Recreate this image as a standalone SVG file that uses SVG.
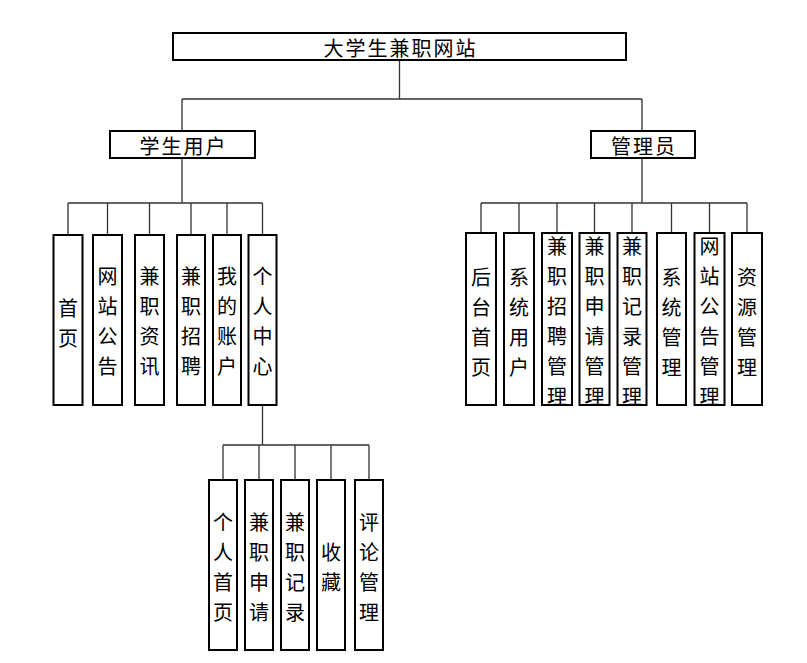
<svg xmlns="http://www.w3.org/2000/svg" width="807" height="663" viewBox="0 0 807 663">
<style>
.box{fill:#fff;stroke:#000;stroke-width:2}
.ln{fill:none;stroke:#333;stroke-width:1.3}
.t{font-family:"Noto Sans CJK SC","Noto Sans CJK JP",sans-serif;font-size:20px;fill:#000;text-anchor:middle;dominant-baseline:central}
.h{letter-spacing:2px}
</style>
<rect width="807" height="663" fill="#fff"/>
<g id="connectors">
<path class="ln" d="M399.5 60V99M182 99H642M182 99V131M642 99V131"/>
<path class="ln" d="M182 158V203M68 203H262.5M68 203V235M107.5 203V235M149.5 203V235M191 203V235M227 203V235M262.5 203V235"/>
<path class="ln" d="M642 158V203M481 203H747M481 203V233M519 203V233M557 203V233M594.5 203V233M632 203V233M671.5 203V233M709.5 203V233M747 203V233"/>
<path class="ln" d="M262.5 405V445M223 445H369M223 445V480M259 445V480M295 445V480M331 445V480M369 445V480"/>
</g>
<g id="root"><rect class="box" x="173" y="33" width="453" height="27"/><text class="t h" x="400.5" y="47">大学生兼职网站</text></g>
<g id="student"><rect class="box" x="110" y="131" width="145" height="27"/><text class="t h" x="183.5" y="145">学生用户</text></g>
<g id="admin"><rect class="box" x="591" y="131" width="104" height="27"/><text class="t h" x="644" y="145">管理员</text></g>

<g id="s1"><rect class="box" x="53.5" y="235" width="29" height="170"/><text class="t"><tspan x="68" y="307">首</tspan><tspan x="68" y="337">页</tspan></text></g>
<g id="s2"><rect class="box" x="93" y="235" width="29" height="170"/><text class="t"><tspan x="107.5" y="275">网</tspan><tspan x="107.5" y="305">站</tspan><tspan x="107.5" y="335">公</tspan><tspan x="107.5" y="365">告</tspan></text></g>
<g id="s3"><rect class="box" x="135" y="235" width="29" height="170"/><text class="t"><tspan x="149.5" y="275">兼</tspan><tspan x="149.5" y="305">职</tspan><tspan x="149.5" y="335">资</tspan><tspan x="149.5" y="365">讯</tspan></text></g>
<g id="s4"><rect class="box" x="177" y="235" width="28" height="170"/><text class="t"><tspan x="191" y="275">兼</tspan><tspan x="191" y="305">职</tspan><tspan x="191" y="335">招</tspan><tspan x="191" y="365">聘</tspan></text></g>
<g id="s5"><rect class="box" x="213" y="235" width="28" height="170"/><text class="t"><tspan x="227" y="275">我</tspan><tspan x="227" y="305">的</tspan><tspan x="227" y="335">账</tspan><tspan x="227" y="365">户</tspan></text></g>
<g id="s6"><rect class="box" x="248.5" y="235" width="28" height="170"/><text class="t"><tspan x="262.5" y="275">个</tspan><tspan x="262.5" y="305">人</tspan><tspan x="262.5" y="335">中</tspan><tspan x="262.5" y="365">心</tspan></text></g>

<g id="a1"><rect class="box" x="466" y="233" width="30" height="172"/><text class="t"><tspan x="481" y="276">后</tspan><tspan x="481" y="306">台</tspan><tspan x="481" y="336">首</tspan><tspan x="481" y="366">页</tspan></text></g>
<g id="a2"><rect class="box" x="504" y="233" width="30" height="172"/><text class="t"><tspan x="519" y="276">系</tspan><tspan x="519" y="306">统</tspan><tspan x="519" y="336">用</tspan><tspan x="519" y="366">户</tspan></text></g>
<g id="a3"><rect class="box" x="542" y="233" width="30" height="172"/><text class="t"><tspan x="557" y="245">兼</tspan><tspan x="557" y="275">职</tspan><tspan x="557" y="305">招</tspan><tspan x="557" y="335">聘</tspan><tspan x="557" y="365">管</tspan><tspan x="557" y="395">理</tspan></text></g>
<g id="a4"><rect class="box" x="579.5" y="233" width="30" height="172"/><text class="t"><tspan x="594.5" y="245">兼</tspan><tspan x="594.5" y="275">职</tspan><tspan x="594.5" y="305">申</tspan><tspan x="594.5" y="335">请</tspan><tspan x="594.5" y="365">管</tspan><tspan x="594.5" y="395">理</tspan></text></g>
<g id="a5"><rect class="box" x="617.5" y="233" width="29" height="172"/><text class="t"><tspan x="632" y="245">兼</tspan><tspan x="632" y="275">职</tspan><tspan x="632" y="305">记</tspan><tspan x="632" y="335">录</tspan><tspan x="632" y="365">管</tspan><tspan x="632" y="395">理</tspan></text></g>
<g id="a6"><rect class="box" x="657" y="233" width="29" height="172"/><text class="t"><tspan x="671.5" y="276">系</tspan><tspan x="671.5" y="306">统</tspan><tspan x="671.5" y="336">管</tspan><tspan x="671.5" y="366">理</tspan></text></g>
<g id="a7"><rect class="box" x="694.5" y="233" width="30" height="172"/><text class="t"><tspan x="709.5" y="245">网</tspan><tspan x="709.5" y="275">站</tspan><tspan x="709.5" y="305">公</tspan><tspan x="709.5" y="335">告</tspan><tspan x="709.5" y="365">管</tspan><tspan x="709.5" y="395">理</tspan></text></g>
<g id="a8"><rect class="box" x="732" y="233" width="30" height="172"/><text class="t"><tspan x="747" y="276">资</tspan><tspan x="747" y="306">源</tspan><tspan x="747" y="336">管</tspan><tspan x="747" y="366">理</tspan></text></g>

<g id="p1"><rect class="box" x="209" y="480" width="28" height="170"/><text class="t"><tspan x="223" y="521">个</tspan><tspan x="223" y="551">人</tspan><tspan x="223" y="581">首</tspan><tspan x="223" y="611">页</tspan></text></g>
<g id="p2"><rect class="box" x="245" y="480" width="28" height="170"/><text class="t"><tspan x="259" y="521">兼</tspan><tspan x="259" y="551">职</tspan><tspan x="259" y="581">申</tspan><tspan x="259" y="611">请</tspan></text></g>
<g id="p3"><rect class="box" x="281" y="480" width="28" height="170"/><text class="t"><tspan x="295" y="521">兼</tspan><tspan x="295" y="551">职</tspan><tspan x="295" y="581">记</tspan><tspan x="295" y="611">录</tspan></text></g>
<g id="p4"><rect class="box" x="317" y="480" width="28" height="170"/><text class="t"><tspan x="331" y="551">收</tspan><tspan x="331" y="581">藏</tspan></text></g>
<g id="p5"><rect class="box" x="355" y="480" width="28" height="170"/><text class="t"><tspan x="369" y="521">评</tspan><tspan x="369" y="551">论</tspan><tspan x="369" y="581">管</tspan><tspan x="369" y="611">理</tspan></text></g>
</svg>
